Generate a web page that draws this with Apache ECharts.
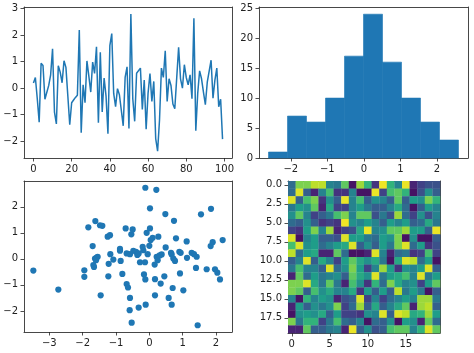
<!DOCTYPE html>
<html>
<head>
<meta charset="utf-8">
<script src="https://cdn.jsdelivr.net/npm/echarts@6/dist/echarts.min.js"></script>
<style>
  html, body { margin: 0; padding: 0; background: #fff; }
  #chart { width: 474px; height: 353px; }
</style>
</head>
<body>
<div id="chart"></div>
<script>
// line plot (top left)
const lineValues = [
  0.19, 0.4, -0.4, -1.28, 0.93, 0.85, -0.42, -0.43, 0.1, 0.5,
  1.48, -0.9, -1.35, 0.84, 0.6, 0.2, 1.03, 0.78, -0.3, -1.38,
  -0.55, -0.45, -0.35, -0.27, 2.18, -1.68, 0.12, -0.55, 1.02, 0.45,
  -0.15, 0.98, 0.55, 1.55, -1.3, 1.35, -0.9, 0.38, -0.3, -1.72,
  1.6, 2.05, -0.2, -0.7, -0.02, -0.25, -0.22, -1.42, 0.4, 0.8,
  -1.52, 2.79, -0.4, -1.25, 0.56, 0.58, 0.75, -0.8, 0.3, -1.55,
  -0.2, 0.55, -0.5, 0.25, -1.9, -2.37, -1.2, 0.75, 0.4, 1.4,
  -0.5, 0.35, 0.1, -0.6, -0.78, -0.75, 1.53, 0.35, 0.0, 0.88,
  0.4, 0.12, 0.5, -0.4, 2.63, -1.6, -0.2, 0.65, 0.35, -0.15,
  -0.62, 0.22, 0.28, 1.05, -0.38, 0.3, 0.75, -0.7, -0.42, -1.92
];
const lineXTicks = [0, 20, 40, 60, 80, 100];
const lineYTicks = [-2, -1, 0, 1, 2, 3];

// histogram (top right)
const binEdges = [-2.61, -2.09, -1.57, -1.05, -0.53, -0.01, 0.51, 1.03, 1.55, 2.07, 2.59];
const binCounts = [1, 7, 6, 10, 17, 24, 16, 10, 6, 3];
const histXTicks = [-2, -1, 0, 1, 2];
const histYTicks = [0, 5, 10, 15, 20, 25];

// scatter (bottom left)
const scatterX = [
  -3.48, -2.73, -1.95, -1.95, -1.83, -1.70, -1.68, -1.66, -1.62, -1.63,
  -1.58, -1.55, -1.60, -1.48, -1.41, -1.46, -1.25, -1.18, -1.22, -1.23,
  -1.17, -1.08, -0.88, -0.88, -0.86, -0.81, -0.71, -0.68, -0.68, -0.64,
  -0.58, -0.54, -0.50, -0.48, -0.58, -0.59, -0.53, -0.40, -0.36, -0.32,
  -0.28, -0.32, -0.20, -0.18, -0.16, -0.13, -0.12, -0.11, -0.12, 0.21,
  0.02, -0.05, -0.08, 0.02, 0.00, 0.04, 0.10, 0.16, 0.17, 0.22,
  0.27, 0.17, 0.25, 0.34, 0.37, 0.45, 0.49, 0.48, 0.58, 0.67,
  0.67, 0.70, 0.74, 0.80, 0.92, 0.90, 0.94, 0.72, 0.77, 1.02,
  1.12, 1.13, 1.27, 1.34, 1.42, 1.40, 1.45, 1.55, 1.72, 1.85,
  1.84, 1.90, 1.97, 2.04, 2.12, 2.20, 0.31, 0.65
];
const scatterY = [
  -0.45, -1.18, -0.44, -0.69, 1.21, 0.49, -0.24, -0.31, 1.45, 0.01,
  0.05, 0.08, -0.05, 1.29, 1.27, -1.40, 0.85, 0.91, -0.19, -0.67,
  0.18, -0.03, 0.31, 0.38, -0.08, -0.58, 1.17, 0.21, -0.97, -1.10,
  0.18, 0.94, 1.13, 0.31, -1.50, -1.97, -2.45, 0.27, 0.15, 0.21,
  -0.13, -1.87, 0.46, 0.33, -0.60, -0.13, -0.79, -1.76, 2.73, 2.65,
  1.94, 0.18, 1.00, 1.17, 0.50, 0.72, 0.81, -0.22, -0.78, 0.08,
  0.85, -1.40, -0.05, -0.95, 0.17, -0.67, 0.44, 1.72, -1.50, -1.76,
  0.17, -1.12, 1.46, 0.79, -0.56, 0.27, 0.23, 0.01, -0.08, -1.21,
  0.67, 0.04, 0.23, 0.18, 0.08, -0.35, -2.55, 1.71, -0.40, 1.92,
  0.49, 0.64, -0.40, -0.53, -0.79, 0.72, 0.13, 0.23
];
const scatterXTicks = [-3, -2, -1, 0, 1, 2];
const scatterYTicks = [-2, -1, 0, 1, 2];

// image (bottom right), rows top to bottom
const imageRows = [
  [0.35, 0.8, 0.8, 0.9, 0.9, 0.45, 0.4, 0.75, 0.05, 0.85, 0.65, 0.15, 0.98, 0.65, 0.45, 0.97, 0.1, 0.2, 0.25, 0.25],
  [0.35, 0.95, 0.3, 0.1, 0.45, 0.7, 0.15, 0.15, 0.45, 0.05, 0.05, 0.97, 0.2, 0.7, 0.75, 0.65, 0.05, 0.25, 0.5, 0.3],
  [0.95, 0.3, 0.7, 0.8, 0.15, 0.5, 0.3, 0.97, 0.45, 0.7, 0.3, 0.5, 0.45, 0.3, 0.75, 0.3, 0.55, 0.5, 0.8, 0.65],
  [0.4, 0.55, 0.5, 0.75, 0.1, 0.6, 0.2, 0.2, 0.45, 0.55, 0.4, 0.3, 0.3, 0.45, 0.6, 0.35, 0.05, 0.3, 0.55, 0.45],
  [0.5, 0.75, 0.45, 0.2, 0.3, 0.4, 0.7, 0.8, 0.45, 0.75, 0.75, 0.25, 0.4, 0.25, 0.85, 0.35, 0.2, 0.5, 0.25, 0.45],
  [0.35, 0.3, 0.5, 0.3, 0.15, 0.2, 0.15, 0.98, 0.5, 0.45, 0.55, 0.45, 0.3, 0.55, 0.45, 0.55, 0.3, 0.35, 0.6, 0.4],
  [0.2, 0.15, 0.55, 0.8, 0.45, 0.85, 0.1, 0.2, 0.25, 0.6, 0.97, 0.45, 0.5, 0.75, 0.75, 0.85, 0.55, 0.55, 0.3, 0.97],
  [0.95, 0.05, 0.45, 0.55, 0.3, 0.3, 0.25, 0.95, 0.55, 0.55, 0.4, 0.35, 0.55, 0.5, 0.8, 0.05, 0.5, 0.05, 0.05, 0.3],
  [0.7, 0.95, 0.5, 0.55, 0.35, 0.45, 0.55, 0.6, 0.95, 0.3, 0.5, 0.3, 0.55, 0.4, 0.8, 0.95, 0.35, 0.55, 0.15, 0.25],
  [0.9, 0.35, 0.55, 0.6, 0.1, 0.1, 0.75, 0.35, 0.05, 0.05, 0.1, 0.95, 0.45, 0.1, 0.35, 0.4, 0.15, 0.2, 0.7, 0.2],
  [0.3, 0.45, 0.95, 0.3, 0.6, 0.45, 0.2, 0.55, 0.75, 0.6, 0.5, 0.6, 0.4, 0.05, 0.6, 0.95, 0.9, 0.35, 0.55, 0.05],
  [0.4, 0.7, 0.45, 0.45, 0.3, 0.95, 0.35, 0.5, 0.8, 0.55, 0.2, 0.45, 0.85, 0.55, 0.15, 0.5, 0.45, 0.55, 0.95, 0.3],
  [0.1, 0.75, 0.35, 0.55, 0.4, 0.45, 0.5, 0.3, 0.75, 0.6, 0.5, 0.95, 0.4, 0.55, 0.6, 0.7, 0.45, 0.95, 0.4, 0.55],
  [0.8, 0.8, 0.95, 0.6, 0.4, 0.75, 0.4, 0.1, 0.7, 0.5, 0.15, 0.65, 0.35, 0.8, 0.6, 0.45, 0.5, 0.2, 0.55, 0.75],
  [0.8, 0.75, 0.3, 0.7, 0.5, 0.6, 0.45, 0.45, 0.6, 0.15, 0.55, 0.3, 0.55, 0.3, 0.9, 0.4, 0.55, 0.4, 0.05, 0.3],
  [0.45, 0.05, 0.65, 0.45, 0.55, 0.5, 0.1, 0.25, 0.3, 0.95, 0.2, 0.45, 0.2, 0.35, 0.45, 0.55, 0.45, 0.85, 0.85, 0.4],
  [0.1, 0.55, 0.3, 0.5, 0.4, 0.5, 0.8, 0.2, 0.35, 0.85, 0.3, 0.6, 0.3, 0.45, 0.6, 0.75, 0.1, 0.85, 0.9, 0.3],
  [0.05, 0.5, 0.55, 0.5, 0.6, 0.3, 0.55, 0.2, 0.2, 0.15, 0.5, 0.45, 0.95, 0.3, 0.95, 0.9, 0.6, 0.65, 0.85, 0.55],
  [0.8, 0.4, 0.65, 0.65, 0.2, 0.4, 0.7, 0.35, 0.3, 0.45, 0.05, 0.35, 0.3, 0.5, 0.05, 0.55, 0.5, 0.1, 0.75, 0.35],
  [0.1, 0.1, 0.75, 0.3, 0.3, 0.4, 0.45, 0.1, 0.97, 0.3, 0.5, 0.25, 0.3, 0.7, 0.75, 0.75, 0.45, 0.65, 0.95, 0.75]
];
const imageXTicks = [0, 5, 10, 15];
const imageYTicks = [0, 2.5, 5, 7.5, 10, 12.5, 15, 17.5];
const viridis = ['#440154', '#482878', '#3e4989', '#31688e', '#26828e',
  '#1f9e89', '#35b779', '#6ece58', '#b5de2b', '#fde725'];

const blue = '#1f77b4';
const minus = (v) => String(v).replace('-', '\u2212');
const spine = { show: true, onZero: false, lineStyle: { color: '#333', width: 0.9 } };

function axis(gridIndex, min, max, ticks, fmt, extra) {
  return Object.assign({
    type: 'value',
    gridIndex,
    min,
    max,
    axisLine: spine,
    splitLine: { show: false },
    axisTick: { show: true, length: 3.5, lineStyle: { color: '#222', width: 0.8 }, customValues: ticks },
    axisLabel: {
      customValues: ticks,
      formatter: fmt || minus,
      color: '#222',
      fontSize: 10,
      fontFamily: 'DejaVu Sans',
      margin: 6,
    },
  }, extra || {});
}

// opposite spines (top / right), line only
function edge(gridIndex, min, max, position, extra) {
  return Object.assign({
    type: 'value',
    gridIndex,
    min,
    max,
    position,
    axisLine: spine,
    axisTick: { show: false },
    axisLabel: { show: false },
    splitLine: { show: false },
  }, extra || {});
}

const lineData = lineValues.map((v, i) => [i, v]);
const histData = binCounts.map((c, i) => [binEdges[i], binEdges[i + 1], c]);
const scatterData = scatterX.map((x, i) => [x, scatterY[i]]);
const imageData = [];
imageRows.forEach((row, r) => {
  row.forEach((v, c) => imageData.push([c, r, v]));
});

const options = {
  animation: false,
  backgroundColor: '#fff',
  grid: [
    { left: 24, top: 7, width: 208, height: 151 },
    { left: 259, top: 7, width: 209, height: 151 },
    { left: 24, top: 181, width: 208, height: 151 },
    { left: 288, top: 181, width: 152, height: 152 },
  ],
  xAxis: [
    axis(0, -4.95, 103.95, lineXTicks),
    axis(1, -2.87, 2.85, histXTicks),
    axis(2, -3.76, 2.48, scatterXTicks),
    axis(3, -0.5, 19.5, imageXTicks),
    edge(0, 0, 1, 'top'),
    edge(1, 0, 1, 'top'),
    edge(2, 0, 1, 'top'),
    edge(3, 0, 1, 'top'),
  ],
  yAxis: [
    axis(0, -2.63, 3.05, lineYTicks),
    axis(1, 0, 25.2, histYTicks),
    axis(2, -2.81, 2.99, scatterYTicks),
    axis(3, -0.5, 19.5, imageYTicks, (v) => Number(v).toFixed(1), { inverse: true }),
    edge(0, 0, 1, 'right'),
    edge(1, 0, 1, 'right'),
    edge(2, 0, 1, 'right'),
    edge(3, 0, 1, 'right'),
  ],
  visualMap: {
    show: false,
    type: 'continuous',
    seriesIndex: 3,
    dimension: 2,
    min: 0,
    max: 1,
    inRange: { color: viridis },
  },
  series: [
    {
      type: 'line',
      xAxisIndex: 0,
      yAxisIndex: 0,
      data: lineData,
      showSymbol: false,
      lineStyle: { color: blue, width: 1.5 },
    },
    {
      type: 'custom',
      xAxisIndex: 1,
      yAxisIndex: 1,
      encode: { x: [0, 1], y: 2 },
      data: histData,
      renderItem: (params, api) => {
        const p0 = api.coord([api.value(0), api.value(2)]);
        const p1 = api.coord([api.value(1), 0]);
        return {
          type: 'rect',
          shape: { x: p0[0], y: p0[1], width: p1[0] - p0[0], height: p1[1] - p0[1] },
          style: { fill: blue, stroke: blue, lineWidth: 0.6 },
        };
      },
    },
    {
      type: 'scatter',
      xAxisIndex: 2,
      yAxisIndex: 2,
      data: scatterData,
      symbolSize: 6.2,
      itemStyle: { color: blue, opacity: 1 },
    },
    {
      type: 'custom',
      xAxisIndex: 3,
      yAxisIndex: 3,
      encode: { x: 0, y: 1 },
      data: imageData,
      renderItem: (params, api) => {
        const c = api.value(0);
        const r = api.value(1);
        const p0 = api.coord([c - 0.5, r - 0.5]);
        const p1 = api.coord([c + 0.5, r + 0.5]);
        return {
          type: 'rect',
          shape: {
            x: Math.min(p0[0], p1[0]),
            y: Math.min(p0[1], p1[1]),
            width: Math.abs(p1[0] - p0[0]) + 0.3,
            height: Math.abs(p1[1] - p0[1]) + 0.3,
          },
          style: { fill: api.visual('color') },
        };
      },
    },
  ],
};

const myChart = echarts.init(document.getElementById('chart'));
myChart.setOption(options);
</script>
</body>
</html>
